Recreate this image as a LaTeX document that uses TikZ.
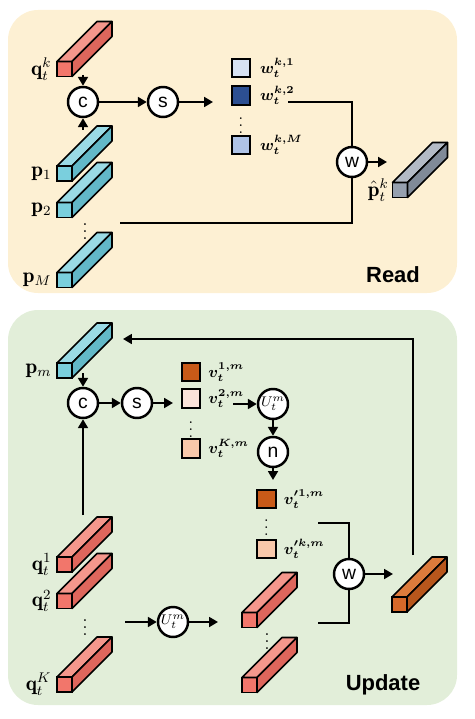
\documentclass[tikz,border=0pt]{standalone}
\usepackage{amsmath,amssymb,bm}
\usepackage{fontspec}
\newfontfamily\opfont{Liberation Sans}
\usetikzlibrary{calc,arrows.meta,positioning}

\definecolor{readbg}{HTML}{FDF0D3}
\definecolor{updatebg}{HTML}{E2EED9}
\definecolor{qfront}{HTML}{F2766B}
\definecolor{qtop}{HTML}{F4978C}
\definecolor{qside}{HTML}{DE665C}
\definecolor{pfront}{HTML}{7ACFDD}
\definecolor{ptop}{HTML}{9ADAE5}
\definecolor{pside}{HTML}{62B8C8}
\definecolor{gfront}{HTML}{96A0AF}
\definecolor{gtop}{HTML}{B3BAC5}
\definecolor{gside}{HTML}{808A98}
\definecolor{ofront}{HTML}{D6692A}
\definecolor{otop}{HTML}{DD7B3C}
\definecolor{oside}{HTML}{B7561C}
\definecolor{wone}{HTML}{D7E2F3}
\definecolor{wtwo}{HTML}{2C4F92}
\definecolor{wthree}{HTML}{AFC3E6}
\definecolor{vone}{HTML}{C85A18}
\definecolor{vtwo}{HTML}{FBE3DA}
\definecolor{vthree}{HTML}{F8C8AA}

\tikzset{
  op/.style={circle, draw, line width=1.4pt, fill=white, minimum size=0.6cm,
    inner sep=0pt, font=\opfont\fontsize{11}{11}\selectfont},
  flow/.style={line width=1.4pt, -{Triangle[length=5pt,width=5.5pt]}},
  wire/.style={line width=1.4pt},
  face/.style={draw, line width=0.9pt, rectangle, minimum width=0.3cm,
    minimum height=0.3cm, inner sep=0pt, outer sep=0pt},
  sq/.style={draw, line width=0.9pt, minimum size=0.37cm, inner sep=0pt},
  barlab/.style={font=\large, inner sep=1pt},
  sqlab/.style={font=\small, inner sep=1pt},
  tag/.style={font=\opfont\bfseries\fontsize{12.5}{14}\selectfont},
}

% feature bar: name, front-face centre, front, top, side colours
\newcommand{\cuboid}[5]{%
  \node[face, fill=#3] (#1) at (#2) {};
  \draw[line width=0.9pt, line join=round, fill=#4]
    (#1.north west) -- ++(40,-40) -- ++(15,0) -- (#1.north east) -- cycle;
  \draw[line width=0.9pt, line join=round, fill=#5]
    (#1.north east) -- ++(40,-40) -- ++(0,15) -- (#1.south east) -- cycle;
}

\begin{document}
\begin{tikzpicture}[x={(0.02cm,0)}, y={(0,-0.02cm)}]
\useasboundingbox (0,0) rectangle (474,719);

% panels
\fill[readbg, rounded corners=0.6cm] (8,10) rectangle (457,293);
\fill[updatebg, rounded corners=0.6cm] (8,310) rectangle (457,705);

%%% Read
\cuboid{qk}{64.5,69}{qfront}{qtop}{qside}
\node[barlab, left=2pt of qk] {$\mathbf{q}_t^k$};
\foreach \n/\y/\s in {p1/173.5/1, p2/210/2, pM/280/M}{
  \cuboid{\n}{64.5,\y}{pfront}{ptop}{pside}
  \node[barlab, left=2pt of \n] {$\mathbf{p}_{\s}$};
}
\node (pdots) at (85,226) {$\vdots$};

\node[op] (c1) at (83,102) {c};
\node[op] (s1) at (163,102) {s};
\coordinate (qin) at (83,75);
\coordinate (pin) at (83,130);
\coordinate (sout) at (213,102);
\draw[flow] (qin) -- (c1);
\draw[flow] (pin) -- (c1);
\draw[flow] (c1) -- (s1);
\draw[flow] (s1) -- (sout);

\foreach \n/\y/\c/\s in {w1/68/wone/1, w2/95.5/wtwo/2, wM/145/wthree/M}{
  \node[sq, fill=\c] (\n) at (241,\y) {};
  \node[sqlab, right=4pt of \n] {$\boldsymbol{w_t^{k,\s}}$};
}
\node[font=\small] (wdots) at (241,120) {$\vdots$};

\node[op] (w1c) at (352,162) {w};
\coordinate (wa) at (288,102);
\coordinate (pa) at (120,223);
\coordinate (wout) at (387,162);
\draw[wire] (wa) -| (w1c.north);
\draw[wire] (pa) -| (w1c.south);
\draw[flow] (w1c) -- (wout);

\cuboid{phat}{400,190}{gfront}{gtop}{gside}
\node[barlab, left=1pt of phat] {$\hat{\mathbf{p}}_t^k$};
\node[tag] (readlab) at (393,275) {Read};

%%% Update
\cuboid{pm}{64.5,370.5}{pfront}{ptop}{pside}
\node[barlab, left=2pt of pm] {$\mathbf{p}_m$};
\foreach \n/\y/\s in {q1/564.5/1, q2/601/2, qK/684.5/K}{
  \cuboid{\n}{64.5,\y}{qfront}{qtop}{qside}
  \node[barlab, left=2pt of \n] {$\mathbf{q}_t^{\s}$};
}
\node (qdots) at (85,622) {$\vdots$};

\node[op] (c2) at (83,403) {c};
\node[op] (s2) at (137,403) {s};
\coordinate (pmin) at (83,373);
\coordinate (qin2) at (83,515);
\coordinate (sout2) at (173,403);
\draw[flow] (pmin) -- (c2);
\draw[flow] (qin2) -- (c2);
\draw[flow] (c2) -- (s2);
\draw[flow] (s2) -- (sout2);

\foreach \n/\y/\c/\s in {v1/372/vone/1, v2/398.5/vtwo/2, vK/448.5/vthree/K}{
  \node[sq, fill=\c] (\n) at (191,\y) {};
  \node[sqlab, right=3pt of \n] {$\boldsymbol{v_t^{\s,m}}$};
}
\node[font=\small] (vdots) at (191,424) {$\vdots$};

\node[op, font=\footnotesize] (u1) at (273,404) {$U_t^m$};
\node[op] (n1) at (273,452) {n};
\coordinate (va) at (233,404);
\coordinate (nout) at (273,480);
\draw[flow] (va) -- (u1);
\draw[flow] (u1) -- (n1);
\draw[flow] (n1) -- (nout);

\foreach \n/\y/\c/\s in {vp1/499/vone/1, vpk/549/vthree/k}{
  \node[sq, fill=\c] (\n) at (266.5,\y) {};
  \node[sqlab, right=3pt of \n] {$\boldsymbol{v'^{\s,m}_t}$};
}
\node[font=\small] (vpdots) at (266.5,522) {$\vdots$};

\node[op, font=\footnotesize] (u2) at (173,622) {$U_t^m$};
\coordinate (qa) at (125,622);
\coordinate (uout) at (218,622);
\draw[flow] (qa) -- (u2);
\draw[flow] (u2) -- (uout);

\cuboid{rq1}{249.5,620}{qfront}{qtop}{qside}
\cuboid{rqK}{249.5,685}{qfront}{qtop}{qside}
\node (rqdots) at (267,636) {$\vdots$};

\node[op] (w2c) at (349,574) {w};
\coordinate (vb) at (318,523);
\coordinate (rb) at (318,623);
\coordinate (wout2) at (393,574);
\draw[wire] (vb) -| (w2c.north);
\draw[wire] (rb) -| (w2c.south);
\draw[flow] (w2c) -- (wout2);

\cuboid{pnew}{399.5,604.5}{ofront}{otop}{oside}
\coordinate (fbtop) at (413,555);
\coordinate (fbend) at (123,339);
\draw[flow] (fbtop) |- (fbend);

\node[tag] (updlab) at (383,685) {Update};

\end{tikzpicture}
\end{document}
